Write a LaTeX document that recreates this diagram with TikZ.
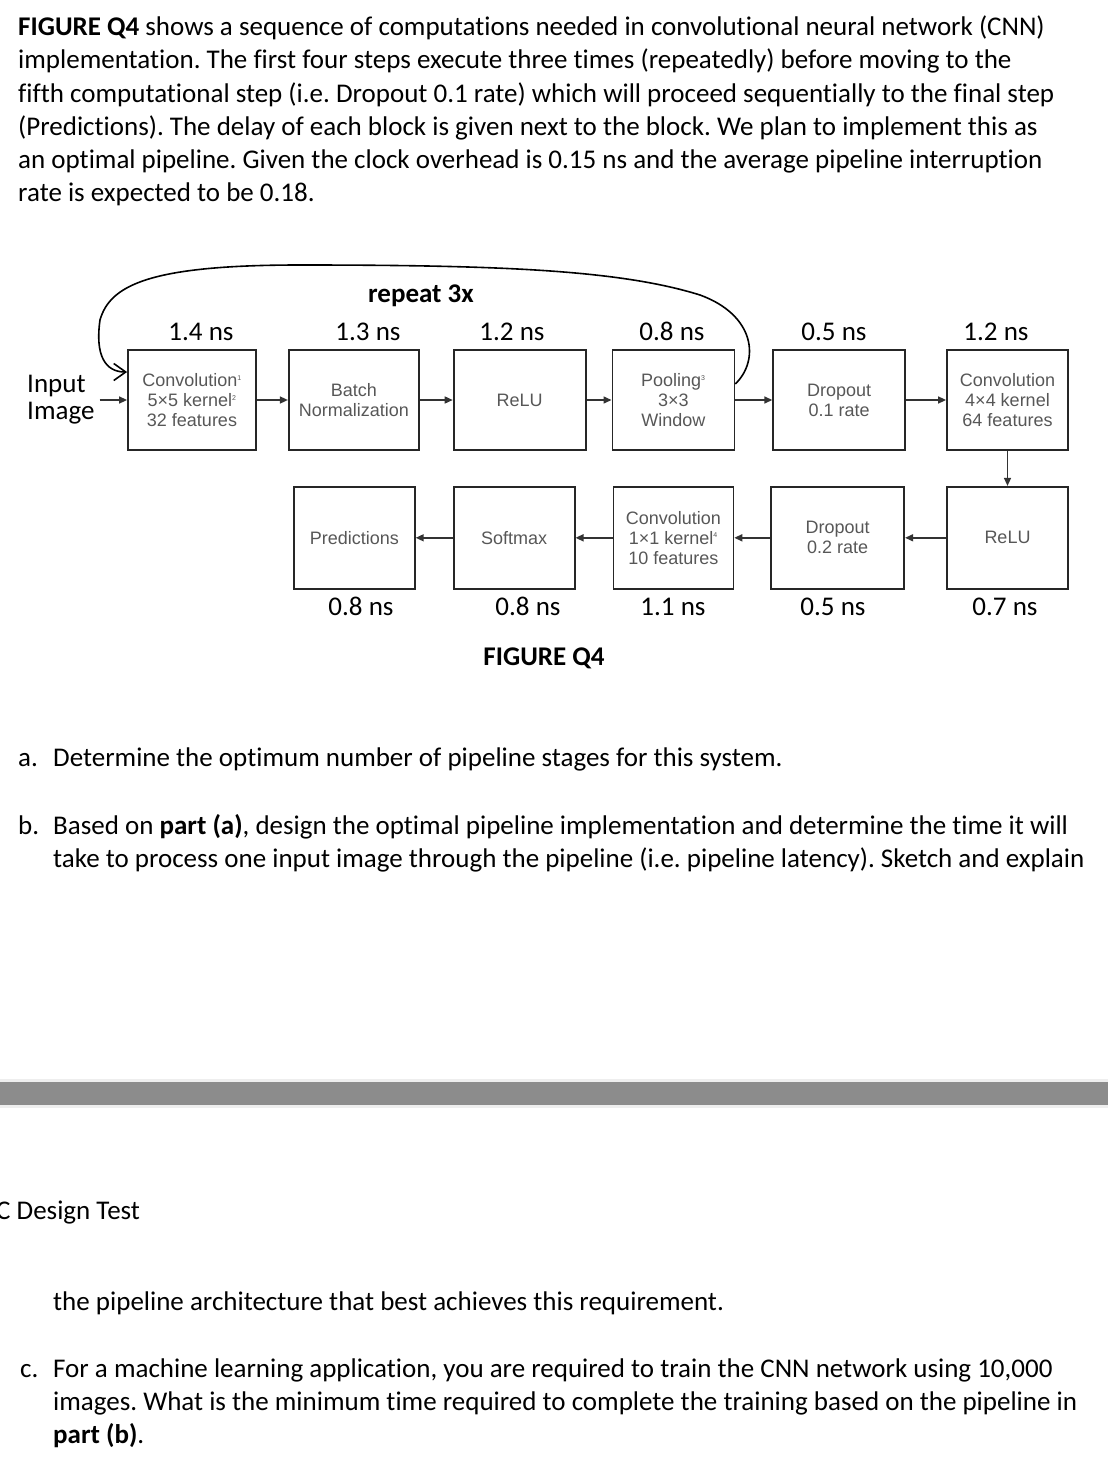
\documentclass[tikz,border=0pt]{standalone}
\usepackage{fontspec}
\usepackage{tikz}
\usetikzlibrary{arrows.meta}
\usetikzlibrary{calc,positioning}

\setmainfont{Carlito}[Ligatures=NoCommon]
\newfontfamily\boxfam{Liberation Sans}
\newcommand{\bodyfont}{\fontsize{27}{33}\selectfont}
\newcommand{\boxfont}{\boxfam\fontsize{18}{20}\selectfont}
\newcommand{\fnmark}[1]{\textsuperscript{\fontsize{7}{7}\selectfont #1}}
\frenchspacing

\definecolor{boxtext}{HTML}{575757}
\definecolor{barfill}{HTML}{8C8C8C}
\definecolor{barrim}{HTML}{EEEEEE}

\begin{document}
\begin{tikzpicture}[x=1pt, y=1pt,
			block/.style={rectangle, draw=black!85, line width=1.8pt, minimum height=100pt,
					inner sep=0pt, align=center, font=\boxfont, text=boxtext},
			flow/.style={-{Triangle[length=8pt,width=7pt]}, line width=1.5pt, draw=black!80},
			loopback/.style={-{Straight Barb[length=12pt,width=17pt]}, line width=1.6pt},
			delay/.style={anchor=base, inner sep=0pt, font=\bodyfont},
			txt/.style={anchor=base west, inner sep=0pt, font=\bodyfont}]
		\useasboundingbox (0,0) rectangle (1108,-1464);

		% question text
		\node (intro1) [txt] at (18,-36) {\textbf{FIGURE Q4} shows a sequence of computations needed in convolutional neural network (CNN)};
		\node (intro2) [txt] at (18,-69) {implementation. The first four steps execute three times (repeatedly) before moving to the};
		\node (intro3) [txt] at (18,-102) {fifth computational step (i.e. Dropout 0.1 rate) which will proceed sequentially to the final step};
		\node (intro4) [txt] at (18,-135) {(Predictions). The delay of each block is given next to the block. We plan to implement this as};
		\node (intro5) [txt] at (18,-168) {an optimal pipeline. Given the clock overhead is 0.15 ns and the average pipeline interruption};
		\node (intro6) [txt] at (18,-201) {rate is expected to be 0.18.};

		% first row
		\node (input) [anchor=west, align=left, inner sep=0pt, font=\fontsize{27}{27}\selectfont] at (27,-400) {Input\\Image};
		\node (conv1) [block, minimum width=128pt] at (192,-400) {Convolution\fnmark{1}\\5×5 kernel\fnmark{2}\\32 features};
		\node (batch) [block, minimum width=130pt, right=31pt of conv1] {Batch\\Normalization};
		\node (relu1) [block, minimum width=132pt, right=33pt of batch] {ReLU};
		\node (pool) [block, minimum width=122pt, right=25pt of relu1] {Pooling\fnmark{3}\\3×3\\Window};
		\node (drop1) [block, minimum width=132pt, right=37pt of pool] {Dropout\\0.1 rate};
		\node (conv4) [block, minimum width=121pt, right=40pt of drop1] {Convolution\\4×4 kernel\\64 features};

		% second row
		\node (relu2) [block, minimum width=121pt, minimum height=102pt, below=35pt of conv4] {ReLU};
		\node (drop2) [block, minimum width=133pt, minimum height=102pt, left=41pt of relu2] {Dropout\\0.2 rate};
		\node (conv10) [block, minimum width=120pt, minimum height=102pt, left=36pt of drop2] {Convolution\\1×1 kernel\fnmark{4}\\10 features};
		\node (softmax) [block, minimum width=121pt, minimum height=102pt, left=37pt of conv10] {Softmax};
		\node (predict) [block, minimum width=121pt, minimum height=102pt, left=37pt of softmax] {Predictions};

		% delays
		\node (t1) [delay] at (201,-340) {1.4 ns};
		\node (t2) [delay] at (368,-340) {1.3 ns};
		\node (t3) [delay] at (512,-340) {1.2 ns};
		\node (t4) [delay] at (672,-340) {0.8 ns};
		\node (t5) [delay] at (834,-340) {0.5 ns};
		\node (t6) [delay] at (996,-340) {1.2 ns};
		\node (t7) [delay] at (1005,-615) {0.7 ns};
		\node (t8) [delay] at (833,-615) {0.5 ns};
		\node (t9) [delay] at (673,-615) {1.1 ns};
		\node (t10) [delay] at (528,-615) {0.8 ns};
		\node (t11) [delay] at (361,-615) {0.8 ns};
		\node (repeat) [delay, font=\bodyfont\bfseries] at (421,-302) {repeat 3x};
		\node (caption) [delay, font=\bodyfont\bfseries] at (544,-665) {FIGURE Q4};

		\draw [flow] (input.east |- conv1) ++(5,0) -- (conv1);
		\draw [flow] (conv1) -- (batch);
		\draw [flow] (batch) -- (relu1);
		\draw [flow] (relu1) -- (pool);
		\draw [flow] (pool) -- (drop1);
		\draw [flow] (drop1) -- (conv4);
		\draw [flow] (conv4) -- (relu2);
		\draw [flow] (relu2) -- (drop2);
		\draw [flow] (drop2) -- (conv10);
		\draw [flow] (conv10) -- (softmax);
		\draw [flow] (softmax) -- (predict);

		% hand drawn loop
		\draw [loopback] ([yshift=16pt]pool.east) .. controls (760,-360) and (755,-315) .. (700,-295)
			.. controls (620,-270) and (500,-265) .. (300,-265)
			.. controls (150,-265) and (110,-285) .. (100,-320)
			.. controls (95,-355) and (105,-372) .. ([yshift=28pt]conv1.west);

		% parts a and b
		\node (qa) [txt] at (18,-766) {a.};
		\node (qatext) [txt] at (53,-766) {Determine the optimum number of pipeline stages for this system.};
		\node (qb) [txt] at (18,-834) {b.};
		\node (qbtext1) [txt] at (53,-834) {Based on \textbf{part (a)}, design the optimal pipeline implementation and determine the time it will};
		\node (qbtext2) [txt] at (53,-867) {take to process one input image through the pipeline (i.e. pipeline latency). Sketch and explain};

		% page break bar
		\fill [barrim] (0,-1079) rectangle (1108,-1108);
		\fill [barfill] (0,-1082) rectangle (1108,-1105);

		\node (header) [txt] at (-4,-1219) {C Design Test};
		\node (req) [txt] at (53,-1310) {the pipeline architecture that best achieves this requirement.};

		% part c
		\node (qc) [txt] at (20,-1377) {c.};
		\node (qctext1) [txt] at (53,-1377) {For a machine learning application, you are required to train the CNN network using 10,000};
		\node (qctext2) [txt] at (53,-1410) {images. What is the minimum time required to complete the training based on the pipeline in};
		\node (qctext3) [txt] at (53,-1443) {\textbf{part (b)}.};
	\end{tikzpicture}
\end{document}
